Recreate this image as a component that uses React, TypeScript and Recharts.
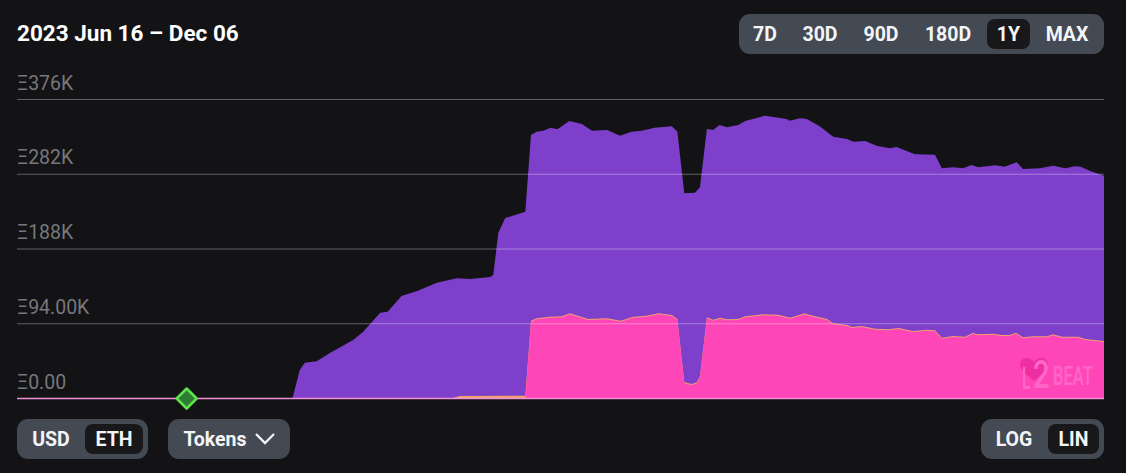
import { AreaChart, Area, XAxis, YAxis, ReferenceLine, ReferenceDot } from "recharts";

// days since Jun 16, thousands of ETH
const totalDays = [0, 43.8, 43.9, 45.0, 45.8, 47.7, 49.8, 53.5, 55.1, 57.8, 59.0, 61.2, 63.8, 66.8, 70.0, 72.1, 75.3, 75.8, 76.6, 77.7, 80.9, 81.8, 82.7, 83.8, 84.9, 86.0, 87.9, 89.9, 91.5, 93.9, 96.0, 97.8, 99.4, 101.5, 104.2, 105.1, 106.2, 107.9, 108.7, 109.8, 110.8, 111.8, 113.0, 114.8, 115.9, 119.0, 122.5, 123.0, 124.6, 125.7, 127.8, 129.9, 132.1, 133.1, 135.0, 136.8, 138.9, 140.0, 142.9, 146.1, 147.2, 149.0, 150.6, 151.9, 153.0, 155.7, 157.2, 159.1, 160.1, 162.8, 164.9, 166.8, 168.4, 169.3, 170.8, 173];
const totalValues = [0, 0, 1.9, 35.8, 45.0, 46.8, 57.2, 73.6, 84.0, 107.9, 109.2, 128.9, 135.6, 145.6, 151.2, 150.3, 152.8, 155.3, 208.0, 226.9, 234.9, 331.4, 335.5, 336.8, 340.5, 338.5, 349.0, 345.2, 336.8, 337.6, 330.5, 335.5, 336.8, 340.5, 342.3, 335.5, 258.0, 258.8, 265.6, 338.9, 337.6, 343.9, 341.0, 343.9, 348.9, 355.6, 351.5, 349.3, 352.3, 351.5, 342.2, 329.2, 326.3, 322.9, 323.8, 317.9, 314.6, 316.3, 307.1, 306.6, 289.5, 290.7, 289.5, 293.6, 290.7, 293.2, 291.5, 297.0, 288.6, 289.5, 292.7, 289.5, 292.0, 291.5, 286.1, 280.2];

const pinkDays = [0, 80.9, 81.8, 82.7, 84.8, 86.7, 88.0, 90.9, 93.9, 96.1, 98.1, 100.2, 102.1, 104.2, 105.1, 106.2, 107.4, 108.2, 108.7, 109.8, 110.8, 111.9, 113.0, 114.8, 115.9, 118.8, 121.2, 123.0, 125.4, 126.2, 128.9, 129.9, 132.1, 132.9, 134.4, 136.6, 138.7, 140.3, 142.6, 144.8, 146.1, 147.2, 149.0, 150.9, 152.1, 153.0, 155.4, 156.7, 158.0, 159.0, 160.1, 161.7, 163.9, 164.9, 166.3, 168.9, 170.0, 173];
const pinkValues = [0, 0, 96.6, 99.6, 101.6, 102.1, 105.9, 98.7, 99.6, 96.6, 101.6, 102.9, 105.9, 103.7, 98.7, 19.1, 17.0, 19.1, 26.7, 100.9, 97.8, 100.3, 98.3, 98.7, 102.1, 104.6, 104.1, 100.3, 105.9, 103.7, 98.7, 93.3, 91.1, 88.6, 89.9, 86.5, 85.7, 87.4, 83.6, 85.2, 84.5, 75.2, 77.3, 76.4, 81.1, 79.4, 80.2, 78.6, 78.6, 81.4, 75.7, 76.9, 76.9, 79.4, 76.4, 76.4, 73.5, 71.0];

const orangeDays = [0, 69.0, 70.5, 80.9, 81.8, 82.7, 84.8, 86.7, 88.0, 90.9, 93.9, 96.1, 98.1, 100.2, 102.1, 104.2, 105.1, 106.2, 107.4, 108.2, 108.7, 109.8, 110.8, 111.9, 113.0, 114.8, 115.9, 118.8, 121.2, 123.0, 125.4, 126.2, 128.9, 129.9, 132.1, 132.9, 134.4, 136.6, 138.7, 140.3, 142.6, 144.8, 146.1, 147.2, 149.0, 150.9, 152.1, 153.0, 155.4, 156.7, 158.0, 159.0, 160.1, 161.7, 163.9, 164.9, 166.3, 168.9, 170.0, 173];
const orangeValues = [0, 0, 3.0, 3.5, 97.9, 100.9, 102.9, 103.4, 107.2, 100.0, 100.9, 97.9, 102.9, 104.2, 107.2, 105.0, 100.0, 20.4, 18.3, 20.4, 28.0, 102.2, 99.1, 101.6, 99.6, 100.0, 103.4, 105.9, 105.4, 101.6, 107.2, 105.0, 100.0, 94.6, 92.4, 89.9, 91.2, 87.8, 87.0, 88.7, 84.9, 86.5, 85.8, 76.5, 78.6, 77.7, 82.4, 80.7, 81.5, 79.9, 79.9, 82.7, 77.0, 78.2, 78.2, 80.7, 77.7, 77.7, 74.8, 72.3];

const yTicks = [0, 94, 188, 282, 376];
const yLabels = ["Ξ0.00", "Ξ94.00K", "Ξ188K", "Ξ282K", "Ξ376K"];
const markerDay = 27;

const title = "2023 Jun 16 – Dec 06";

const toRows = (days: number[], values: number[]) =>
  days.map((day, i) => ({ day, value: values[i] }));

const FONT = "Roboto, sans-serif";
const PILL = "#434a54";
const ACTIVE = "#18181b";

function Pill({ left, width, top = 419 }: { left: number; width: number; top?: number }) {
  return (
    <div
      style={{
        position: "absolute",
        left,
        top,
        width,
        height: 40,
        borderRadius: 11,
        background: PILL,
      }}
    />
  );
}

function Active({ left, width, top }: { left: number; width: number; top: number }) {
  return (
    <div
      style={{
        position: "absolute",
        left,
        top,
        width,
        height: 30,
        borderRadius: 8,
        background: ACTIVE,
      }}
    />
  );
}

function Label({ text, center, y }: { text: string; center: number; y: number }) {
  return (
    <div
      style={{
        position: "absolute",
        left: center - 50,
        width: 100,
        top: y - 12,
        height: 24,
        lineHeight: "24px",
        textAlign: "center",
        color: "#f4f5f7",
        fontSize: 19.5,
        fontWeight: 700,
      }}
    >
      {text}
    </div>
  );
}

function YTick({ y, payload }: any) {
  const i = yTicks.indexOf(payload.value);
  return (
    <text x={17} y={y - 10} fill="#77777b" fontSize={19.5} fontFamily={FONT}>
      {yLabels[i]}
    </text>
  );
}

function Diamond({ cx, cy }: any) {
  return (
    <path
      d={`M${cx} ${cy - 10}L${cx + 10} ${cy}L${cx} ${cy + 10}L${cx - 10} ${cy}Z`}
      fill="#2f7d32"
      stroke="#5fe34d"
      strokeWidth={2.5}
      strokeLinejoin="round"
    />
  );
}

function Watermark() {
  const part = (left: number, top: number, size: number, sx: number, w: number): any => ({
    position: "absolute",
    left,
    top,
    width: w,
    fontSize: size,
    fontWeight: 500,
    lineHeight: `${size}px`,
    transform: `scaleX(${sx})`,
    transformOrigin: "left",
  });
  return (
    <div
      style={{
        position: "absolute",
        left: 1020,
        top: 356,
        width: 76,
        height: 36,
        color: "#ff66c6",
        whiteSpace: "nowrap",
      }}
    >
      <svg style={{ position: "absolute", left: 0, top: 2 }} width={28} height={24}>
        <path
          d="M14 23C6 16 0 12 0 6.500C0 2.500 3 0 6.500 0C9.500 0 12.500 1.500 14 4.500C15.500 1.500 18.500 0 21.500 0C25 0 28 2.500 28 6.500C28 12 22 16 14 23Z"
          fill="#ee2ea2"
        />
      </svg>
      <span style={part(2, 7, 31, 0.5, 18)}>L</span>
      <span style={part(13, 0, 39, 0.75, 23)}>2</span>
      <span style={part(33, 8, 25, 0.66, 60)}>BEAT</span>
    </div>
  );
}

export default function App() {
  return (
    <div
      style={{
        position: "absolute",
        left: 0,
        top: 0,
        width: 1126,
        height: 473,
        background: "#131315",
        fontFamily: FONT,
        overflow: "hidden",
      }}
    >
      <AreaChart
        width={1126}
        height={473}
        margin={{ top: 99.5, right: 22, bottom: 74.5, left: 17 }}
      >
        <XAxis type="number" dataKey="day" domain={[0, 173]} hide />
        <YAxis
          type="number"
          domain={[0, 376]}
          ticks={yTicks}
          width={80}
          mirror
          axisLine={false}
          tickLine={false}
          tick={<YTick />}
          interval={0}
        />
        <Area
          data={toRows(totalDays, totalValues)}
          dataKey="value"
          type="linear"
          fill="#7e40cb"
          fillOpacity={1}
          stroke="none"
          isAnimationActive={false}
        />
        <Area
          data={toRows(orangeDays, orangeValues)}
          dataKey="value"
          type="linear"
          fill="#f0a268"
          fillOpacity={1}
          stroke="none"
          isAnimationActive={false}
        />
        <Area
          data={toRows(pinkDays, pinkValues)}
          dataKey="value"
          type="linear"
          fill="#ff46b8"
          fillOpacity={1}
          stroke="none"
          isAnimationActive={false}
        />
        {yTicks.slice(1).map((t) => (
          <ReferenceLine key={t} y={t} stroke="rgba(255,255,255,0.33)" strokeWidth={1} />
        ))}
        <ReferenceLine y={0} stroke="#f090d8" strokeWidth={1.5} />
        <ReferenceDot
          x={markerDay}
          y={0}
          ifOverflow="visible"
          shape={<Diamond />}
        />
      </AreaChart>

      <Watermark />

      <div
        style={{
          position: "absolute",
          left: 17,
          top: 18,
          height: 30,
          lineHeight: "30px",
          fontSize: 22.5,
          fontWeight: 700,
          color: "#fff",
        }}
      >
        {title}
      </div>

      <Pill left={739} width={365} top={14} />
      <Active left={987} width={43} top={19} />
      <Label text="7D" center={765} y={34.5} />
      <Label text="30D" center={820} y={34.5} />
      <Label text="90D" center={881} y={34.5} />
      <Label text="180D" center={948} y={34.5} />
      <Label text="1Y" center={1008.5} y={34.5} />
      <Label text="MAX" center={1067} y={34.5} />

      <Pill left={17} width={131} />
      <Active left={85} width={58} top={424} />
      <Label text="USD" center={51} y={439.5} />
      <Label text="ETH" center={114} y={439.5} />

      <Pill left={168} width={122} />
      <Label text="Tokens" center={215} y={439.5} />
      <svg style={{ position: "absolute", left: 254, top: 432 }} width={22} height={14}>
        <path d="M2 2L11 11L20 2" fill="none" stroke="#f4f5f7" strokeWidth={2.4} />
      </svg>

      <Pill left={981} width={123} />
      <Active left={1048} width={51} top={424} />
      <Label text="LOG" center={1014} y={439.5} />
      <Label text="LIN" center={1073.5} y={439.5} />
    </div>
  );
}
